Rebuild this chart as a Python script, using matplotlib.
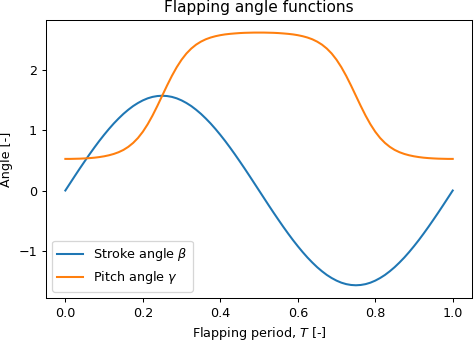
import matplotlib.pyplot as plt

# flapping period, sampled every 0.0125
period = [i / 80 for i in range(81)]

# stroke angle over the first quarter period (rest follows by symmetry)
stroke_quarter = [0.0, 0.123, 0.246, 0.367, 0.485, 0.601, 0.713, 0.821, 0.923, 1.020, 1.111,
                  1.194, 1.271, 1.339, 1.400, 1.451, 1.494, 1.528, 1.552, 1.566, 1.571]
stroke_half = stroke_quarter + stroke_quarter[-2::-1]
stroke_angle = stroke_half + [-v for v in stroke_half[1:]]

# pitch angle over the first half period
pitch_half = [0.524, 0.524, 0.526, 0.528, 0.532, 0.537, 0.544, 0.554, 0.567, 0.584,
              0.606, 0.635, 0.673, 0.724, 0.789, 0.871, 0.974, 1.098, 1.242, 1.402,
              1.571, 1.740, 1.900, 2.044, 2.168, 2.271, 2.353, 2.418, 2.468, 2.507,
              2.536, 2.558, 2.575, 2.588, 2.597, 2.604, 2.610, 2.614, 2.616, 2.618, 2.618]
pitch_angle = pitch_half + pitch_half[-2::-1]

dpi = 92
fig = plt.figure(figsize=(474 / dpi, 344 / dpi), dpi=dpi)
ax = fig.add_axes([0.097, 0.134, 0.899, 0.808])
ax.plot(period, stroke_angle, label=r"Stroke angle $\beta$", lw=1.6)
ax.plot(period, pitch_angle, label=r"Pitch angle $\gamma$", lw=1.6)
ax.set_title("Flapping angle functions")
ax.set_xlabel(r"Flapping period, $T$ [-]")
ax.set_ylabel("Angle [-]")
ax.legend(loc="lower left")
fig.savefig("out.png")
